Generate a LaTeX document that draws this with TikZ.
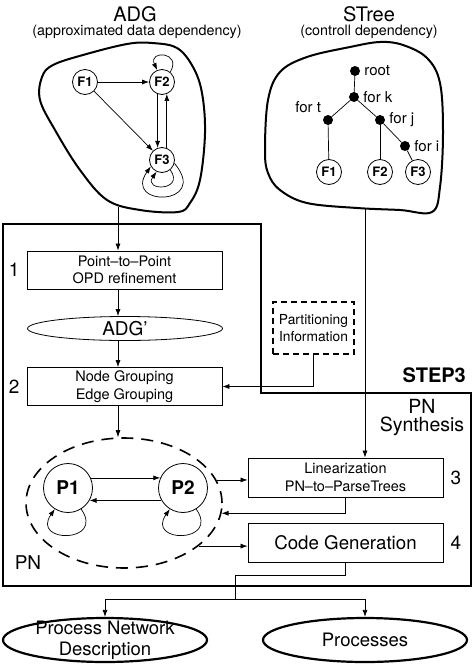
\documentclass[tikz,border=0pt]{standalone}
\usepackage{fontspec}
\setmainfont{TeX Gyre Heros}
\usetikzlibrary{shapes.geometric,arrows.meta,positioning}

\begin{document}
\begin{tikzpicture}[x=1pt, y=-1pt,
  fnode/.style={circle, draw, line width=0.8pt, minimum size=25pt, inner sep=0pt,
                font=\fontsize{13}{13}\selectfont\bfseries},
  tdot/.style={circle, fill, inner sep=0pt, minimum size=10pt},
  every label/.style={inner sep=1pt, font=\fontsize{15}{15}\selectfont},
  label distance=3pt,
  stepbox/.style={draw, line width=0.8pt, minimum width=195pt, minimum height=38pt,
                  align=center, inner sep=0pt, font=\fontsize{14.5}{17.5}\selectfont},
  pnode/.style={circle, draw, line width=0.8pt, minimum size=49pt, inner sep=0pt,
                font=\fontsize{19}{19}\selectfont\bfseries},
  result/.style={ellipse, draw, line width=2.2pt, minimum width=204pt, minimum height=44pt,
                 inner xsep=0pt, inner ysep=-4pt, align=center, font=\fontsize{18.5}{21}\selectfont},
  stepnum/.style={inner sep=0pt, font=\fontsize{19}{19}\selectfont},
  title/.style={inner sep=0pt, font=\fontsize{20}{20}\selectfont},
  subtitle/.style={inner sep=0pt, font=\fontsize{14.3}{14.3}\selectfont},
  blob/.style={line width=2pt},
  frame/.style={line width=2.4pt},
  arr/.style={-{Latex[length=7pt,width=5pt]}, line width=0.7pt},
  link/.style={line width=0.7pt}
]
\useasboundingbox (0,0) rectangle (474,667);

\node[title] (adgtitle) at (135,14) {ADG};
\node[subtitle] (adgsub) at (137,32) {(approximated data dependency)};
\node[title] (streetitle) at (369,14) {STree};
\node[subtitle] (streesub) at (369,32) {(controll dependency)};

\draw[blob] plot[smooth cycle, tension=0.6] coordinates {(127,44) (152,43) (177,48) (193,67)
  (202,93) (205,133) (200,180) (190,203) (178,212) (140,210) (107,200) (80,170) (55,130)
  (40,100) (42,77) (53,65) (83,55)};
\draw[blob] plot[smooth cycle, tension=0.6] coordinates {(380,42) (403,45) (427,58) (440,83)
  (443,133) (440,187) (432,212) (400,210) (357,208) (307,203) (280,190) (268,173) (265,150)
  (268,100) (280,72) (307,57) (350,47)};

\node[fnode] (F1) at (85,82) {F1};
\node[fnode] (F2) at (162,82) {F2};
\node[fnode] (F3) at (162,160) {F3};
\draw[arr] (F1) -- (F2); \draw[arr] (F1) -- (F3);
\draw[arr] (F2.250) -- (F3.110); \draw[arr] (F3.68) -- (F2.292);
\draw[arr] (F2.50) .. controls +(60:24pt) and +(115:22pt) .. (F2.112);
\draw[arr] (F3.-50) .. controls +(-55:26pt) and +(-125:24pt) .. (F3.-115);
\draw[arr] (F3.-15) .. controls +(-50:56pt) and +(-125:50pt) .. (F3.-150);

\node[tdot, label=right:root] (root) at (355,71) {};
\node[tdot, label=right:for k] (fork) at (354,97) {};
\node[tdot, label=above left:for t] (fort) at (328,120) {};
\node[tdot, label=right:for j] (forj) at (380,120) {};
\node[tdot, label=right:for i] (fori) at (405,146) {};
\node[fnode] (leafa) at (329,172) {F1};
\node[fnode] (leafb) at (380,172) {F2};
\node[fnode] (leafc) at (418,172) {F3};
\draw[link] (root) -- (fork); \draw[link] (fork) -- (fort); \draw[link] (fork) -- (forj);
\draw[link] (fort) -- (leafa); \draw[link] (forj) -- (leafb);
\draw[link] (forj) -- (fori); \draw[link] (fori) -- (leafc);

\draw[frame] (3,224) -- (261,224) -- (261,393) -- (471,393) -- (471,586) -- (3,586) -- cycle;

\node[stepbox] (refine) at (124.5,270) {Point--to--Point\\OPD refinement};
\node[ellipse, draw, line width=0.8pt, minimum width=195pt, minimum height=24pt, inner sep=0pt,
      font=\fontsize{19}{19}\selectfont] (adgp) at (125,328.5) {ADG'};
\node[stepbox] (group) at (124.5,386.5) {Node Grouping\\Edge Grouping};
\node[draw, line width=1.4pt, dash pattern=on 6pt off 4pt, minimum width=81pt, minimum height=52pt,
      inner sep=0pt, align=center, font=\fontsize{13.8}{17}\selectfont] (part) at (313.5,328) {Partitioning\\Information};
\node[stepnum, left=7pt of refine] (n1) {1};
\node[stepnum, left=7pt of group] (n2) {2};
\node[inner sep=0pt, font=\fontsize{20}{20}\selectfont\bfseries, anchor=east] (step3) at (466,375) {STEP3};
\node[inner sep=0pt, align=center, font=\fontsize{19.5}{18}\selectfont, anchor=north] (synth) at (422,399) {PN\\Synthesis};

\node[ellipse, draw, line width=1.6pt, dash pattern=on 12pt off 8pt, minimum width=196pt,
      minimum height=130pt, inner sep=0pt] (pn) at (124,503) {};
\node[pnode] (P1) at (68,488) {P1};
\node[pnode] (P2) at (183,488) {P2};
\node[stepnum] (pnlabel) at (28,563) {PN};
\draw[arr] (P1.24) -- (P2.156); \draw[arr] (P2.210) -- (P1.330);
\draw[arr] (P1.-58) .. controls +(-55:42pt) and +(-125:42pt) .. (P1.-122);
\draw[arr] (P2.-58) .. controls +(-55:42pt) and +(-125:42pt) .. (P2.-122);

\node[stepbox, minimum height=39pt] (lin) at (345.5,477.5) {Linearization\\PN--to--ParseTrees};
\node[stepbox, minimum height=39pt, font=\fontsize{18.7}{18.7}\selectfont] (code) at (345.5,542.5) {Code Generation};
\node[stepnum, right=7pt of lin] (n3) {3};
\node[stepnum, right=7pt of code] (n4) {4};

\node[result] (pnd) at (105,640) {Process Network\\Description};
\node[result] (procs) at (365,640) {Processes};

\coordinate (adgout) at (118,207);
\coordinate (streeout) at (365,209);
\coordinate (bend) at (235,575);
\coordinate (split) at (235,599);

\draw[arr] (adgout) -- (adgout |- refine.north);
\draw[arr] (refine.south -| adgout) -- (adgp.north -| adgout);
\draw[arr] (adgp.south -| adgout) -- (group.north -| adgout);
\draw[arr] (part.south) |- (group.east);
\draw[arr] (group.south -| adgout) -- (pn.north -| adgout);
\draw[arr] (streeout) -- (streeout |- lin.north);
\draw[arr] (pn.14) -- (pn.14 -| lin.west);
\draw[arr] (lin.south) |- (pn.-6);
\draw[arr] (pn.-30) -- (pn.-30 -| code.west);
\draw[link] (code.south) |- (bend) -- (split);
\draw[arr] (split) -| (pnd.north); \draw[arr] (split) -| (procs.north);
\end{tikzpicture}
\end{document}
